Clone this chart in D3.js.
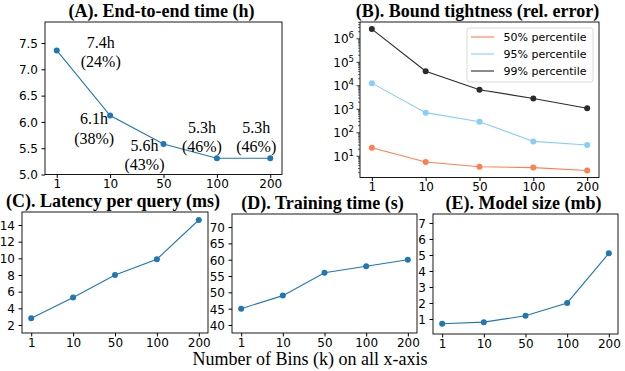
<!DOCTYPE html>
<html><head><meta charset="utf-8">
<script src="https://cdn.jsdelivr.net/npm/d3@7"></script>
<style>body{margin:0;background:#fff}svg{display:block}</style>
</head><body>
<svg id="c" width="625" height="371"></svg>
<script>
const bins = ["1","10","50","100","200"];
const endToEnd = [7.36, 6.12, 5.58, 5.31, 5.31];
const endToEndLabels = [["7.4h","(24%)"],["6.1h","(38%)"],["5.6h","(43%)"],["5.3h","(46%)"],["5.3h","(46%)"]];
const p50 = [23, 5.7, 3.6, 3.3, 2.5];
const p95 = [13000, 720, 295, 43, 30];
const p99 = [2600000, 42000, 6800, 2900, 1100];
const legendNames = ["50% percentile","95% percentile","99% percentile"];
const latency = [2.8, 5.3, 8.0, 9.9, 14.6];
const training = [45, 49, 56, 58, 60];
const modelSize = [0.7, 0.8, 1.2, 2.0, 5.1];
const xLabel = "Number of Bins (k) on all x-axis";

const svg = d3.select("#c");
const BLUE = "#1f77b4";
const TICKF = "DejaVu Sans";
const SERIF = "Liberation Serif";

function panel(opt){
  const g = svg.append("g");
  const x = d3.scalePoint().domain(bins).range([opt.l, opt.r]).padding(0.22);
  const y = opt.log ? d3.scaleLog().domain(opt.yd).range([opt.b, opt.t])
                    : d3.scaleLinear().domain(opt.yd).range([opt.b, opt.t]);
  // frame
  g.append("rect").attr("x",opt.l).attr("y",opt.t).attr("width",opt.r-opt.l).attr("height",opt.b-opt.t)
    .attr("fill","none").attr("stroke","#000").attr("stroke-width",0.9);
  // x axis
  const xa = g.append("g").attr("transform",`translate(0,${opt.b})`)
    .call(d3.axisBottom(x).tickSize(3.5).tickPadding(3.5).tickSizeOuter(0));
  xa.select(".domain").remove();
  xa.selectAll("text").attr("font-family",TICKF).attr("font-size",12).attr("fill","#000").attr("dy",null).attr("y",13.5);
  // y axis
  let ya;
  if(opt.log){
    const majors = [1e1,1e2,1e3,1e4,1e5,1e6];
    const minors = [];
    for(let e=0;e<=6;e++) for(let k=2;k<=9;k++){const v=k*Math.pow(10,e); if(v>=opt.yd[0]&&v<=opt.yd[1]) minors.push(v);}
    ya = g.append("g").attr("transform",`translate(${opt.l},0)`);
    ya.selectAll("line.mi").data(minors).join("line").attr("x1",-2).attr("x2",0)
      .attr("y1",d=>y(d)).attr("y2",d=>y(d)).attr("stroke","#000").attr("stroke-width",0.6);
    ya.selectAll("line.ma").data(majors).join("line").attr("x1",-3.5).attr("x2",0)
      .attr("y1",d=>y(d)).attr("y2",d=>y(d)).attr("stroke","#000").attr("stroke-width",0.8);
    const t = ya.selectAll("text").data(majors).join("text")
      .attr("x",-6).attr("y",d=>y(d)+4.5).attr("text-anchor","end")
      .attr("font-family",TICKF).attr("font-size",12).attr("fill","#000");
    t.append("tspan").text("10");
    t.append("tspan").attr("dy",-5).attr("font-size",8.5).text(d=>Math.round(Math.log10(d)));
  } else {
    ya = g.append("g").attr("transform",`translate(${opt.l},0)`)
      .call(d3.axisLeft(y).tickValues(opt.ticks).tickFormat(opt.fmt).tickSize(3.5).tickPadding(3.5).tickSizeOuter(0));
    ya.select(".domain").remove();
    ya.selectAll("text").attr("font-family",TICKF).attr("font-size",12).attr("fill","#000").attr("dy","0.36em");
  }
  // title
  g.append("text").attr("x",(opt.l+opt.r)/2 - 2).attr("y",opt.t-5.5).attr("text-anchor","middle")
    .attr("font-family",SERIF).attr("font-weight","bold").attr("font-size",18).attr("fill","#000").text(opt.title);
  // series
  opt.series.forEach(s=>{
    const line = d3.line().x((d,i)=>x(bins[i])).y(d=>y(d));
    g.append("path").datum(s.v).attr("d",line).attr("fill","none").attr("stroke",s.c).attr("stroke-width",1.1);
    g.selectAll(null).data(s.v).join("circle").attr("cx",(d,i)=>x(bins[i])).attr("cy",d=>y(d))
      .attr("r",3).attr("fill",s.c);
  });
  return {g,x,y};
}

const A = panel({l:45,r:282,t:22,b:174.5,yd:[5.0,7.9],ticks:[5.0,5.5,6.0,6.5,7.0,7.5],fmt:d3.format(".1f"),
  title:"(A). End-to-end time (h)", series:[{v:endToEnd,c:BLUE}]});
// annotations in A (pixel offsets from each point)
const annOff = [[44,-8],[-16,3],[-19,1],[-15,-31],[-14,-31]];
endToEndLabels.forEach((lab,i)=>{
  const cx = A.x(bins[i]) + annOff[i][0];
  const cy = A.y(endToEnd[i]) + annOff[i][1];
  lab.forEach((s,j)=>{
    A.g.append("text").attr("x",cx).attr("y",cy + j*19.5 + 5.5).attr("text-anchor","middle")
      .attr("font-family",SERIF).attr("font-size",16).attr("fill","#000").text(s);
  });
});

const legendColors = ["#ff7f50","#87cefa","#2b2b2b"];
const B = panel({l:360,r:599,t:22,b:177.5,log:true,yd:[1.25,5.2e6],
  title:"(B). Bound tightness (rel. error)",
  series:[{v:p50,c:legendColors[0]},{v:p95,c:legendColors[1]},{v:p99,c:legendColors[2]}]});
// legend
const lg = B.g.append("g");
lg.append("rect").attr("x",467).attr("y",28).attr("width",126).attr("height",54).attr("rx",2.5)
  .attr("fill","#fff").attr("fill-opacity",0.85).attr("stroke","#d0d0d0").attr("stroke-width",0.8);
legendNames.forEach((n,i)=>{
  const yy = 37 + i*17;
  lg.append("line").attr("x1",471).attr("x2",494).attr("y1",yy).attr("y2",yy).attr("stroke",legendColors[i]).attr("stroke-width",1.1);
  lg.append("text").attr("x",503.5).attr("y",yy+4).attr("font-family",TICKF).attr("font-size",11).attr("fill","#000").text(n);
});

panel({l:22,r:208,t:212,b:333,yd:[1.04,15.56],ticks:[2,4,6,8,10,12,14],fmt:d3.format("d"),
  title:"(C). Latency per query (ms)", series:[{v:latency,c:BLUE}]});
panel({l:232,r:417,t:214,b:333,yd:[37.55,74],ticks:[40,45,50,55,60,65,70],fmt:d3.format("d"),
  title:"(D). Training time (s)", series:[{v:training,c:BLUE}]});
panel({l:433,r:618,t:214,b:334,yd:[0.06,7.56],ticks:[1,2,3,4,5,6,7],fmt:d3.format("d"),
  title:"(E). Model size (mb)", series:[{v:modelSize,c:BLUE}]});

svg.append("text").attr("x",310).attr("y",365).attr("text-anchor","middle")
  .attr("font-family",SERIF).attr("font-size",18).attr("fill","#000").text(xLabel);
</script>
</body></html>
